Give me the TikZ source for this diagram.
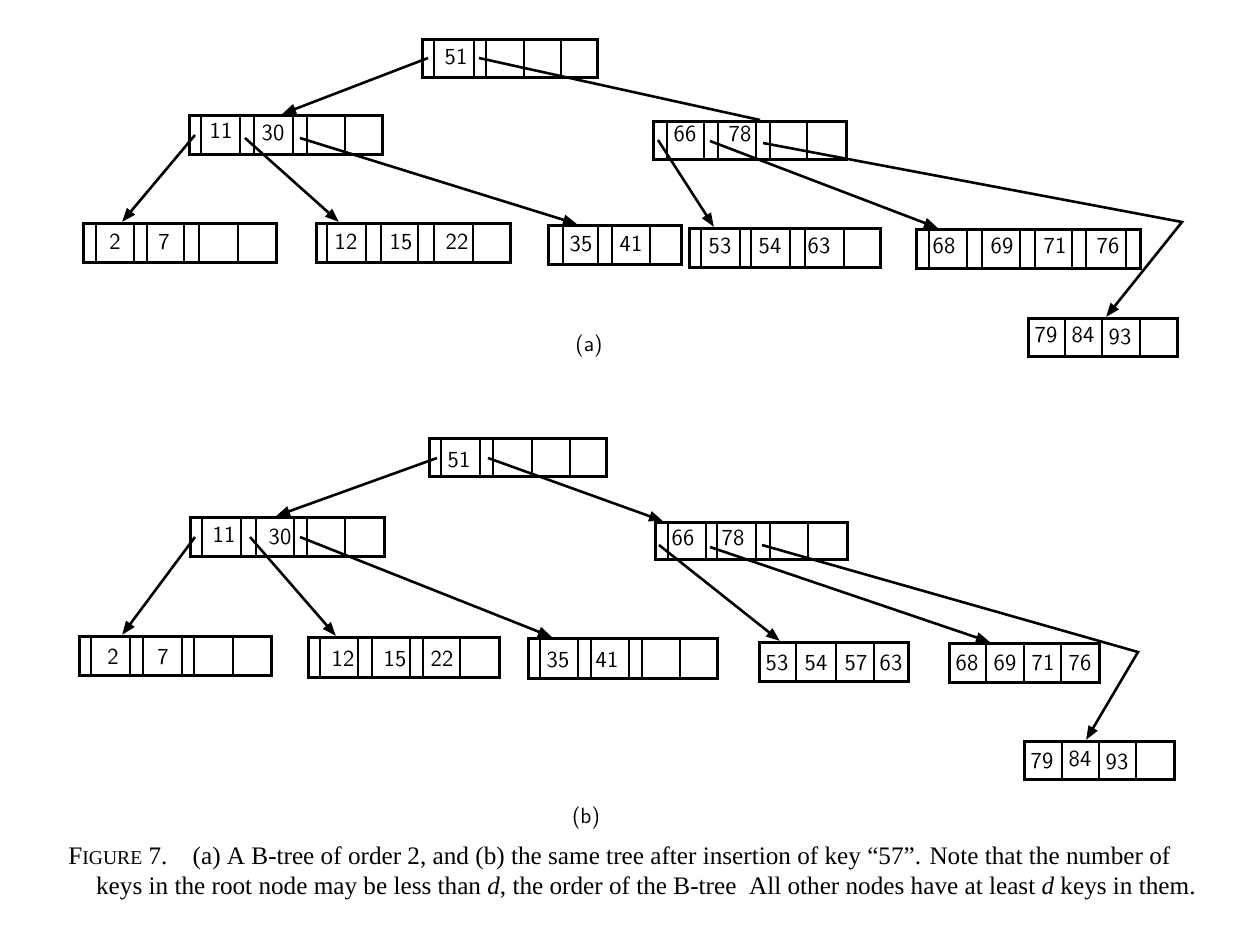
\documentclass[tikz,border=0pt]{standalone}
\usepackage{fontspec}
\setmainfont{Liberation Serif}
\usetikzlibrary{arrows.meta}
\newcommand{\bt}[6]{%
  \node[draw,line width=1.3pt,anchor=north west,inner sep=0pt,minimum width={(#4-#2)*0.5pt},minimum height={(#5-#3)*0.5pt}] (#1) at (#2,#3) {};
  \foreach \xx in {#6} \draw[line width=1.2pt] (\xx,#3) -- (\xx,#5);}
\newcommand{\kt}[3]{\node[key] at (#1,#2) {#3};}
\begin{document}
\begin{tikzpicture}[x=0.5pt,y=-0.5pt,
  key/.style={font=\fontsize{11.5}{12}\sffamily,inner sep=0pt},
  ptr/.style={line width=1.3pt,-{Triangle[length=7pt,width=5pt]}},
  lbl/.style={font=\fontsize{11}{12}\sffamily}]
\useasboundingbox (0,0) rectangle (1250,933);
% ---------------- (a)
\bt{ra}{421}{38}{596}{76}{434,474,486,524,561}
\kt{456}{57}{51}
\bt{na}{188}{114}{381}{153}{201,240,254,293,307,345}
\kt{221}{131}{11}\kt{273}{133}{30}
\bt{ma}{652}{120}{845}{158}{667,704,718,756,770,807}
\kt{685}{134}{66}\kt{740}{134}{78}
\bt{la1}{82}{222}{275}{261}{96,134,147,184,199,238}
\kt{115}{242}{2}\kt{164}{242}{7}
\bt{la2}{315}{222}{509}{261}{327,366,381,418,434,473}
\kt{346}{242}{12}\kt{401}{242}{15}\kt{457}{242}{22}
\bt{la3}{547}{224}{680}{263}{563,598,612,650}
\kt{581}{244}{35}\kt{631}{244}{41}
\bt{la4}{688}{227}{879}{266}{701,740,751,790,805,844}
\kt{720}{246}{53}\kt{770}{246}{54}\kt{819}{246}{63}
\bt{la5}{915}{228}{1139}{267}{929,967,982,1020,1035,1072,1086,1126}
\kt{944}{246}{68}\kt{1002}{246}{69}\kt{1055}{246}{71}\kt{1108}{246}{76}
\bt{la6}{1027}{317}{1176}{355}{1065,1102,1140}
\kt{1046}{335}{79}\kt{1083}{335}{84}\kt{1120}{337}{93}
\node[lbl] (capa) at (589,346) {(a)};
% pointers (a)
\coordinate (pa1) at (428,58); \coordinate (ta1) at (282,114);
\coordinate (pa2) at (479,58); \coordinate (ta2) at (760,120);
\coordinate (pa3) at (195,135); \coordinate (ta3) at (122,222);
\coordinate (pa4) at (245,138); \coordinate (ta4) at (339,222);
\coordinate (pa5) at (300,138); \coordinate (ta5) at (577,224);
\coordinate (pa6) at (658,140); \coordinate (ta6) at (714,227);
\coordinate (pa7) at (710,141); \coordinate (ta7) at (938,228);
\coordinate (pa8) at (763,143); \coordinate (ba8) at (1182,222); \coordinate (ta8) at (1106,317);
\draw[ptr] (pa1) -- (ta1);
\draw[line width=1.3pt] (pa2) -- (ta2);
\draw[ptr] (pa3) -- (ta3);
\draw[ptr] (pa4) -- (ta4);
\draw[ptr] (pa5) -- (ta5);
\draw[ptr] (pa6) -- (ta6);
\draw[ptr] (pa7) -- (ta7);
\draw[ptr] (pa8) -- (ba8) -- (ta8);
% ---------------- (b)
\bt{rb}{428}{437}{605}{475}{441,480,493,532,570}
\kt{459}{460}{51}
\bt{nb}{189}{516}{383}{555}{202,241,256,294,307,345}
\kt{224}{535}{11}\kt{280}{537}{30}
\bt{mb}{654}{521}{846}{558}{668,706,717,756,770,808}
\kt{683}{538}{66}\kt{733}{538}{78}
\bt{lb1}{78}{635}{270}{674}{91,130,143,182,194,233}
\kt{113}{657}{2}\kt{163}{657}{7}
\bt{lb2}{307}{636}{498}{676}{320,358,372,410,423,460}
\kt{343}{659}{12}\kt{395}{659}{15}\kt{442}{659}{22}
\bt{lb3}{527}{637}{716}{677}{540,578,591,629,642,680}
\kt{558}{660}{35}\kt{607}{660}{41}
\bt{lb4}{758}{641}{907}{680}{796,836,874}
\kt{777}{663}{53}\kt{816}{663}{54}\kt{856}{663}{57}\kt{891}{663}{63}
\bt{lb5}{948}{642}{1098}{681}{986,1024,1061}
\kt{967}{663}{68}\kt{1005}{663}{69}\kt{1043}{663}{71}\kt{1080}{663}{76}
\bt{lb6}{1023}{740}{1173}{778}{1062,1099,1136}
\kt{1042}{761}{79}\kt{1080}{759}{84}\kt{1117}{762}{93}
\node[lbl] (capb) at (586,818) {(b)};
\coordinate (pb1) at (437,458); \coordinate (tb1) at (276,516);
\coordinate (pb2) at (488,458); \coordinate (tb2) at (663,521);
\coordinate (pb3) at (195,537); \coordinate (tb3) at (122,635);
\coordinate (pb4) at (250,537); \coordinate (tb4) at (336,636);
\coordinate (pb5) at (300,537); \coordinate (tb5) at (552,637);
\coordinate (pb6) at (659,545); \coordinate (tb6) at (780,641);
\coordinate (pb7) at (710,547); \coordinate (tb7) at (990,642);
\coordinate (pb8) at (762,545); \coordinate (bb8) at (1138,652); \coordinate (tb8) at (1086,740);
\draw[ptr] (pb1) -- (tb1);
\draw[ptr] (pb2) -- (tb2);
\draw[ptr] (pb3) -- (tb3);
\draw[ptr] (pb4) -- (tb4);
\draw[ptr] (pb5) -- (tb5);
\draw[ptr] (pb6) -- (tb6);
\draw[ptr] (pb7) -- (tb7);
\draw[ptr] (pb8) -- (bb8) -- (tb8);
% caption
\node[anchor=north west,inner sep=0pt,align=left,font=\fontsize{12.6}{15}\selectfont] (cap) at (68,846)
 {F{\fontsize{9.8}{10}\selectfont IGURE} 7.\quad (a) A B-tree of order 2, and (b) the same tree after insertion of key ``57''. Note that the number of\\
 \hspace{1.1em}keys in the root node may be less than \emph{d}, the order of the B-tree\ \ All other nodes have at least \emph{d} keys in them.};
\end{tikzpicture}
\end{document}
